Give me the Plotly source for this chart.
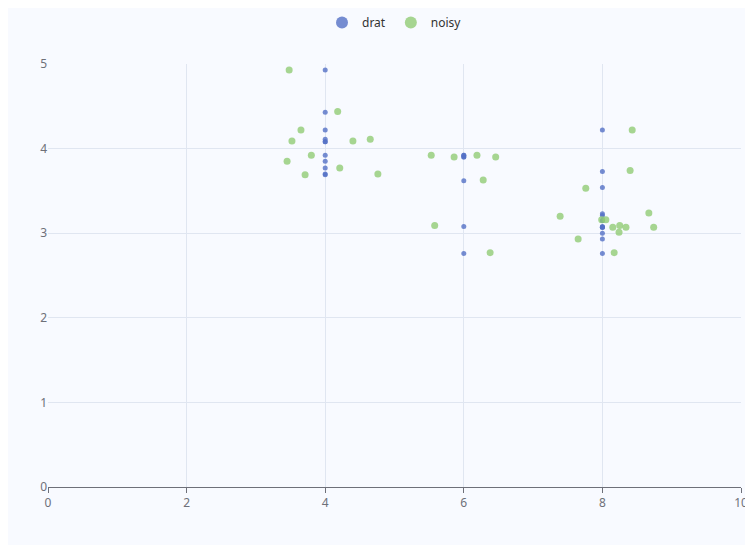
import plotly.graph_objects as go

cyl = [4]*11 + [6]*7 + [8]*14
drat = [3.85, 3.69, 3.92, 4.08, 4.93, 4.22, 3.70, 4.08, 4.43, 3.77, 4.11,
        3.90, 3.90, 3.08, 2.76, 3.92, 3.92, 3.62,
        3.15, 3.21, 3.07, 3.07, 3.07, 2.93, 3.00, 3.23, 2.76, 3.15, 3.73, 3.08, 4.22, 3.54]

noisy_x = [3.48, 3.65, 3.52, 3.80, 3.45, 3.71, 4.18, 4.40, 4.65, 4.21, 4.76,
           5.53, 5.86, 6.19, 6.46, 6.28, 5.58, 6.38,
           7.76, 7.39, 7.65, 8.43, 8.40, 8.67, 8.74, 7.99, 8.05, 8.15, 8.25, 8.34, 8.24, 8.17]
noisy_y = [4.93, 4.22, 4.09, 3.92, 3.85, 3.69, 4.44, 4.09, 4.11, 3.77, 3.70,
           3.92, 3.90, 3.92, 3.90, 3.63, 3.09, 2.77,
           3.53, 3.20, 2.93, 4.22, 3.74, 3.24, 3.07, 3.16, 3.16, 3.07, 3.09, 3.07, 3.01, 2.77]

fig = go.Figure()
fig.add_trace(go.Scatter(x=cyl, y=drat, mode='markers', name='drat',
                         marker=dict(color='#5470c6', size=5, opacity=0.8)))
fig.add_trace(go.Scatter(x=noisy_x, y=noisy_y, mode='markers', name='noisy',
                         marker=dict(color='#91cc75', size=7, opacity=0.8)))

axis = dict(showgrid=True, gridcolor='#e0e6f1', zeroline=False, showline=True,
            linecolor='#6e7079', ticks='outside', tickcolor='#6e7079', ticklen=5,
            tickfont=dict(color='#6e7079', size=12), automargin=False)
fig.update_xaxes(range=[0, 10], dtick=2, **axis)
fig.update_yaxes(range=[0, 5], dtick=1, **axis)
fig.update_yaxes(showline=False, ticks='')
fig.update_layout(
    width=753, height=545, autosize=False,
    paper_bgcolor='#f8faff', plot_bgcolor='#f8faff',
    margin=dict(l=40, r=20, t=56, b=66),
    font=dict(family='Noto Sans', color='#333'),
    legend=dict(orientation='h', x=0.5, xanchor='center', yref='container', y=1.0, yanchor='top',
                font=dict(size=12), itemsizing='constant'),
)
fig.write_html("out.html")
